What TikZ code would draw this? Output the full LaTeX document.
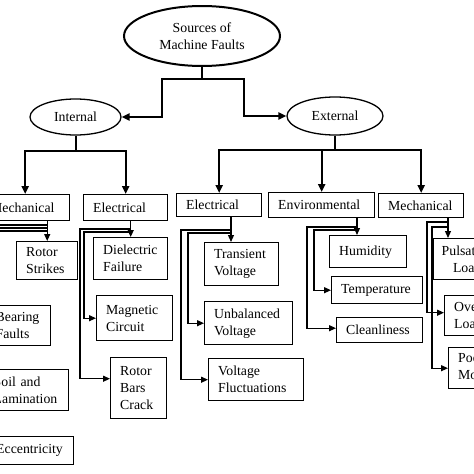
\documentclass[tikz,border=0pt]{standalone}
\usepackage{fontspec}
\setmainfont{Liberation Serif}
\usetikzlibrary{shapes.geometric,arrows.meta}
\begin{document}
\begin{tikzpicture}[x=1pt,y=-1pt,
  font=\fontsize{13.8}{17}\selectfont,
  box/.style={draw, line width=1.4pt, inner xsep=9.5pt, inner ysep=0pt, align=left, anchor=north west},
  ell/.style={draw, ellipse, inner sep=0pt, line width=1.3pt, align=center},
  main/.style={line width=2pt, -{Triangle[length=8pt,width=7pt]}},
  sub/.style={line width=1.2pt, -{Triangle[length=7pt,width=6pt]}}]
\useasboundingbox (0,0) rectangle (474,474);
% ellipses
\node[ell, line width=2pt, minimum width=156pt, minimum height=60pt] (root) at (202,36) {Sources of\\Machine Faults};
\node[ell, minimum width=91pt, minimum height=36pt] (int) at (75.5,117) {Internal};
\node[ell, minimum width=96pt, minimum height=38pt] (ext) at (335,116) {External};
% internal boxes
\node[box, text width=70pt, minimum height=26pt] (imech) at (-20,194) {Mechanical};
\node[box, text width=65pt, minimum height=26pt] (iel) at (83,194) {Electrical};
\node[box, text width=42pt, minimum height=38pt] (rotor) at (16,241) {Rotor\\Strikes};
\node[box, text width=45pt, minimum height=40pt] (bear) at (-14.5,305) {Bearing\\Faults};
\node[box, text width=65.5pt, minimum height=41pt] (soil) at (-16.5,369) {Soil and\\Lamination};
\node[box, text width=68pt, minimum height=28pt] (ecc) at (-14,436) {Eccentricity};
\node[box, text width=55pt, minimum height=42pt] (diel) at (93,237) {Dielectric\\Failure};
\node[box, text width=57pt, minimum height=45pt] (mag) at (96,295) {Magnetic\\Circuit};
\node[box, text width=37pt, minimum height=61pt] (rbc) at (110,357) {Rotor\\Bars\\Crack};
% external boxes
\node[box, text width=66pt, minimum height=23pt] (eel) at (176,193) {Electrical};
\node[box, text width=87pt, minimum height=25pt] (env) at (268,192) {Environmental};
\node[box, text width=66pt, minimum height=24pt] (emech) at (378,193) {Mechanical};
\node[box, text width=55pt, minimum height=43pt] (trans) at (204,242) {Transient\\Voltage};
\node[box, text width=69pt, minimum height=43pt] (unbal) at (204,301) {Unbalanced\\Voltage};
\node[box, text width=76pt, minimum height=42pt] (vfl) at (208,358) {Voltage\\Fluctuations};
\node[box, text width=58pt, minimum height=32pt] (hum) at (329,235) {Humidity};
\node[box, text width=72pt, minimum height=27pt] (temp) at (331,276) {Temperature};
\node[box, text width=67pt, minimum height=25pt] (clean) at (336,317) {Cleanliness};
\node[box, inner xsep=8pt, text width=51pt, align=center, minimum height=41pt] (puls) at (433,238) {Pulsating\\Load};
\node[box, text width=48pt, minimum height=40pt] (over) at (444,295) {Over\\Load};
\node[box, text width=60pt, minimum height=41pt] (poor) at (448,347) {Poor\\Mounting};
% top connectors
\draw[main] (root.south) |- (162,79) |- (int.east);
\draw[main] (root.south) |- (244,79) |- (ext.west);
\draw[line width=2pt] (int.south) -- (int.south |- 0,151);
\draw[main] (int.south |- 0,151) -| (imech.north);
\draw[main] (int.south |- 0,151) -| (iel.north);
\draw[line width=2pt] (ext.south) -- (ext.south |- 0,150);
\draw[main] (ext.south |- 0,150) -| (eel.north);
\draw[main] (ext.south |- 0,150) -| (env.north);
\draw[main] (ext.south |- 0,150) -| (emech.north);
% internal mechanical
\draw[sub] (rotor.north |- imech.south) -- (rotor.north);
\draw[sub] (rotor.north |- 0,225) -- (-30,225) |- (ecc.west);
\draw[sub] (rotor.north |- 0,228) -- (-27,228) |- (soil.west);
\draw[sub] (rotor.north |- 0,231) -- (-24,231) |- (bear.west);
% internal electrical
\draw[sub] (diel.north |- iel.south) -- (diel.north);
\draw[sub] (diel.north |- 0,229) -- (80,229) |- ([yshift=9.5pt]rbc.west);
\draw[sub] (diel.north |- 0,232) -- (84,232) |- (mag.west);
% external electrical
\draw[sub] (231,0 |- eel.south) -- (231,0 |- trans.north);
\draw[sub] (231,230) -- (181,230) |- (vfl.west);
\draw[sub] (231,233) -- (188,233) |- (unbal.west);
% environmental
\draw[sub] (357,0 |- env.south) -- (357,0 |- hum.north);
\draw[sub] (357,227) -- (307,227) |- ([yshift=2pt]clean.west);
\draw[sub] (357,230) -- (314,230) |- (temp.west);
% external mechanical
\draw[sub] (448,0 |- emech.south) -- (448,0 |- puls.north);
\draw[sub] (448,222) -- (427,222) |- ([yshift=3pt]over.west);
\draw[sub] (448,227) -- (432,227) |- (poor.west);
\end{tikzpicture}
\end{document}
